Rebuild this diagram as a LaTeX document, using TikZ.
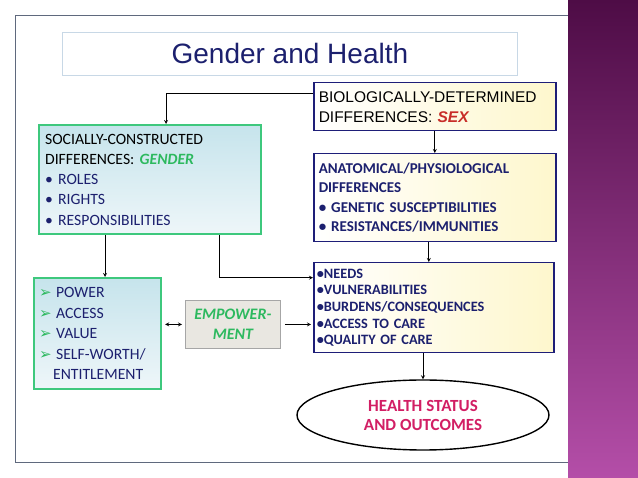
\documentclass[tikz,border=0pt]{standalone}
\usepackage{fontspec}
\setmainfont{Carlito}
\newfontfamily\arialfont{Liberation Sans}
\newfontfamily\symfont{DejaVu Sans}
\usepackage{xcolor}
\usepackage{tikz}
\usetikzlibrary{shapes.geometric}

\definecolor{navytext}{RGB}{28,32,110}
\definecolor{boxnavy}{RGB}{30,30,120}
\definecolor{boxgreen}{RGB}{62,200,125}
\definecolor{gendergreen}{RGB}{45,185,95}
\definecolor{sexred}{RGB}{200,45,40}
\definecolor{healthpink}{RGB}{210,30,100}
\definecolor{bandtop}{RGB}{78,12,70}
\definecolor{bandmid}{RGB}{125,38,115}
\definecolor{bandbot}{RGB}{180,78,168}

\newcommand{\arrbullet}{\makebox[17pt][l]{\symfont\color{gendergreen}\fontsize{15}{15}\selectfont ➢}}

\tikzstyle{yellowbox} = [draw=boxnavy, line width=1.5pt, left color=white, right color={rgb,255:red,254;green,247;blue,205},
    anchor=north west, align=left, text=navytext]
\tikzstyle{greenbox} = [draw=boxgreen, line width=2.2pt, top color={rgb,255:red,198;green,228;blue,236},
    bottom color={rgb,255:red,238;green,246;blue,249}, anchor=north west, align=left, text=navytext]

\begin{document}
\begin{tikzpicture}[x=1pt, y=-1pt, >=stealth, thick]
    \useasboundingbox (0,0) rectangle (638,478);
    % slide frame and side band
    \draw[draw={rgb,255:red,95;green,105;blue,125}, line width=0.8pt] (15,15) rectangle (568,462);
    \shade[top color=bandtop, middle color=bandmid, bottom color=bandbot] (568,0) rectangle (638,478);

    \node[draw={rgb,255:red,200;green,216;blue,230}, line width=0.8pt, anchor=north west,
        minimum width=455pt, minimum height=43pt, text=navytext,
        font=\arialfont\fontsize{28}{30}\selectfont] (title) at (62,32) {Gender and Health};

    \node[yellowbox, text width=232pt, inner xsep=5pt, minimum height=48pt, text=black,
        font=\arialfont\fontsize{15.5}{20}\selectfont] (bio) at (313,82)
        {BIOLOGICALLY-DETERMINED\\DIFFERENCES: {\color{sexred}\bfseries\itshape SEX}};

    \node[greenbox, text width=210pt, inner xsep=6pt, minimum height=109pt,
        font=\fontsize{15.7}{20.3}\selectfont] (social) at (38,124)
        {{\color{black}SOCIALLY-CONSTRUCTED}\\
         {\color{black}DIFFERENCES:} {\bfseries\itshape\color{gendergreen}GENDER}\\
         • ROLES\\• RIGHTS\\• RESPONSIBILITIES};

    \node[yellowbox, text width=232pt, inner xsep=5pt, minimum height=88pt,
        font=\bfseries\fontsize{15}{19.5}\selectfont] (anat) at (313,153)
        {ANATOMICAL/PHYSIOLOGICAL\\DIFFERENCES\\• GENETIC SUSCEPTIBILITIES\\• RESISTANCES/IMMUNITIES};

    \node[yellowbox, text width=234pt, inner xsep=3pt, minimum height=90pt,
        font=\bfseries\fontsize{14.3}{16.7}\selectfont] (needs) at (313,262)
        {•NEEDS\\•VULNERABILITIES\\•BURDENS/CONSEQUENCES\\•ACCESS TO CARE\\•QUALITY OF CARE};

    \node[greenbox, text width=117pt, inner xsep=5pt, minimum height=111pt,
        font=\fontsize{15.7}{20.5}\selectfont] (power) at (33,277)
        {\arrbullet POWER\\\arrbullet ACCESS\\\arrbullet VALUE\\\arrbullet SELF-WORTH/\\\hspace*{14pt}ENTITLEMENT};

    \node[draw=black!35, line width=0.8pt, fill={rgb,255:red,233;green,231;blue,225}, anchor=north west,
        minimum width=95pt, minimum height=48pt, align=center, text=gendergreen,
        font=\bfseries\itshape\fontsize{16}{20}\selectfont] (empow) at (185,300)
        {EMPOWER-\\MENT};

    \node[ellipse, draw, line width=1.4pt, fill=white, minimum width=252pt, minimum height=70pt,
        align=center, text=healthpink, font=\bfseries\fontsize{17}{19}\selectfont] (health) at (423,415)
        {HEALTH STATUS\\AND OUTCOMES};

    % connectors
    \draw[->] ([yshift=13pt]bio.west) -| ([xshift=16pt]social.north);
    \draw[->] (bio.south) -- (anat.north);
    \draw[->] ([xshift=-6pt]anat.south) -- ([xshift=-6pt]anat.south |- needs.north);
    \draw[->] ([xshift=-45pt]social.south) -- ([xshift=-45pt]social.south |- power.north);
    \draw[->] ([xshift=69pt]social.south) |- ([yshift=30pt]needs.west);
    \draw[<->, shorten <=3pt, shorten >=3pt] (power.east |- empow.west) -- (empow.west);
    \draw[->, shorten <=4pt, shorten >=2pt] (empow.east) -- (empow.east -| needs.west);
    \draw[->] (needs.south -| health.north) -- (health.north);
\end{tikzpicture}
\end{document}
